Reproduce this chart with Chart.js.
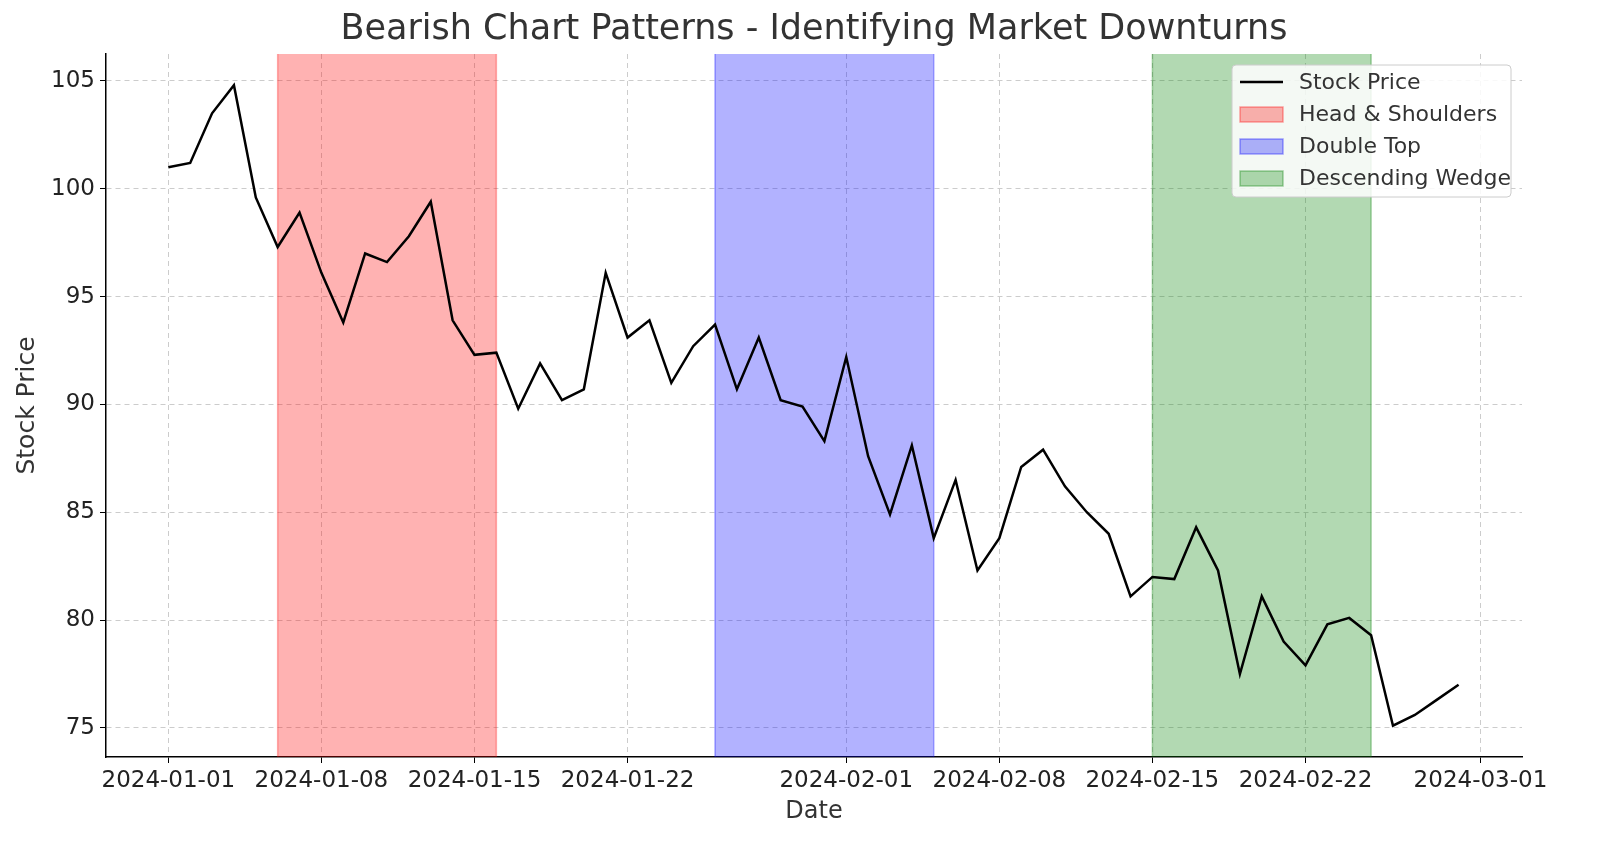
<!DOCTYPE html>
<html><head><script src="https://cdn.jsdelivr.net/npm/chart.js"></script>
<style>html,body{margin:0;background:#fff;overflow:hidden}#w{width:1600px;height:856px}</style></head>
<body><div id="w"><canvas id="c"></canvas></div>
<script>
const startDate = '2024-01-01';
const prices = [101.0,101.2,103.5,104.8,99.6,97.3,98.9,96.1,93.8,97.0,96.6,97.8,99.4,93.9,92.3,92.4,89.8,91.9,90.2,90.7,96.1,93.1,93.9,91.0,92.7,93.7,90.7,93.1,90.2,89.9,88.3,92.2,87.6,84.9,88.1,83.8,86.5,82.3,83.8,87.1,87.9,86.2,85.0,84.0,81.1,82.0,81.9,84.3,82.3,77.5,81.1,79.0,77.9,79.8,80.1,79.3,75.1,75.6,76.3,77.0];
const tickDays = [0,7,14,21,31,38,45,52,60];
const patterns = [
  {name:'Head & Shoulders', from:5, to:15, color:'rgba(255,0,0,0.3)', edge:'rgba(255,0,0,0.35)'},
  {name:'Double Top', from:25, to:35, color:'rgba(0,0,255,0.3)', edge:'rgba(0,0,255,0.35)'},
  {name:'Descending Wedge', from:45, to:55, color:'rgba(0,128,0,0.3)', edge:'rgba(0,128,0,0.35)'}
];
const yMin = 73.65, yMax = 106.25;
function dayLabel(d){const t=new Date(Date.UTC(2024,0,1+d));return t.toISOString().slice(0,10);}
const datasets = [{label:'Stock Price',data:prices.map((v,i)=>({x:i,y:v})),borderColor:'#000',borderWidth:2.5,pointRadius:0,tension:0,fill:false,order:0}];
patterns.forEach(p=>datasets.push({label:p.name,data:[{x:p.from,y:yMax},{x:p.to,y:yMax}],borderWidth:0,pointRadius:0,backgroundColor:p.color,borderColor:p.color,fill:'start',order:1}));
const deco = {id:'deco',
  beforeDatasetsDraw(ch){const ctx=ch.ctx,x=ch.scales.x,y=ch.scales.y;ctx.save();
    patterns.forEach(p=>{ctx.strokeStyle=p.edge;ctx.lineWidth=1.5;[p.from,p.to].forEach(d=>{const px=x.getPixelForValue(d);ctx.beginPath();ctx.moveTo(px,y.top);ctx.lineTo(px,y.bottom);ctx.stroke();});});ctx.restore();},
  afterDraw(ch){const ctx=ch.ctx;ctx.save();
    ctx.fillStyle='#333';ctx.font='35px "DejaVu Sans"';ctx.textAlign='center';ctx.textBaseline='middle';
    ctx.fillText('Bearish Chart Patterns - Identifying Market Downturns',814,30);
    ctx.fillStyle='rgba(255,255,255,0.85)';ctx.strokeStyle='#ccc';ctx.lineWidth=1;
    ctx.beginPath();ctx.roundRect(1232,65,279,132,4);ctx.fill();ctx.stroke();
    ctx.font='22px "DejaVu Sans"';ctx.textAlign='left';
    const items=[{name:'Stock Price'}].concat(patterns);
    items.forEach((it,i)=>{const yy=82+i*32;
      if(i==0){ctx.strokeStyle='#000';ctx.lineWidth=2.5;ctx.beginPath();ctx.moveTo(1240,yy);ctx.lineTo(1283,yy);ctx.stroke();}
      else{ctx.fillStyle=it.color;ctx.fillRect(1240,yy-7,43,15);ctx.strokeStyle=it.edge;ctx.lineWidth=1.5;ctx.strokeRect(1240,yy-7,43,15);}
      ctx.fillStyle='#333';ctx.fillText(it.name,1299,yy+1);});
    ctx.restore();}};
new Chart(document.getElementById('c'),{type:'line',data:{datasets},plugins:[deco],
 options:{responsive:true,maintainAspectRatio:false,animation:false,
  layout:{padding:{top:54,right:78,left:12,bottom:30}},
  plugins:{legend:{display:false},tooltip:{enabled:false}},
  scales:{
   x:{type:'linear',min:-2.85,max:61.9,
     afterBuildTicks(s){s.ticks=tickDays.map(v=>({value:v}));},
     afterFit(s){s.height=69;},
     ticks:{callback:v=>dayLabel(v),font:{size:23,family:'DejaVu Sans'},color:'#222',maxRotation:0,autoSkip:false,padding:4},
     grid:{color:'rgba(0,0,0,0.2)',tickColor:'#000',tickLength:6,drawOnChartArea:true},
     border:{color:'#000',width:1.5,dash:[5,4]},
     title:{display:true,text:'Date',font:{size:24,family:'DejaVu Sans'},color:'#333',padding:{top:0,bottom:0}}},
   y:{min:yMin,max:yMax,
     afterBuildTicks(s){s.ticks=[75,80,85,90,95,100,105].map(v=>({value:v}));},
     afterFit(s){s.width=94;},
     ticks:{font:{size:23,family:'DejaVu Sans'},color:'#222',padding:5},
     grid:{color:'rgba(0,0,0,0.2)',tickColor:'#000',tickLength:6},
     border:{color:'#000',width:1.5,dash:[5,4]},
     title:{display:true,text:'Stock Price',font:{size:25,family:'DejaVu Sans'},color:'#333',padding:0}}
  }}});
</script></body></html>
